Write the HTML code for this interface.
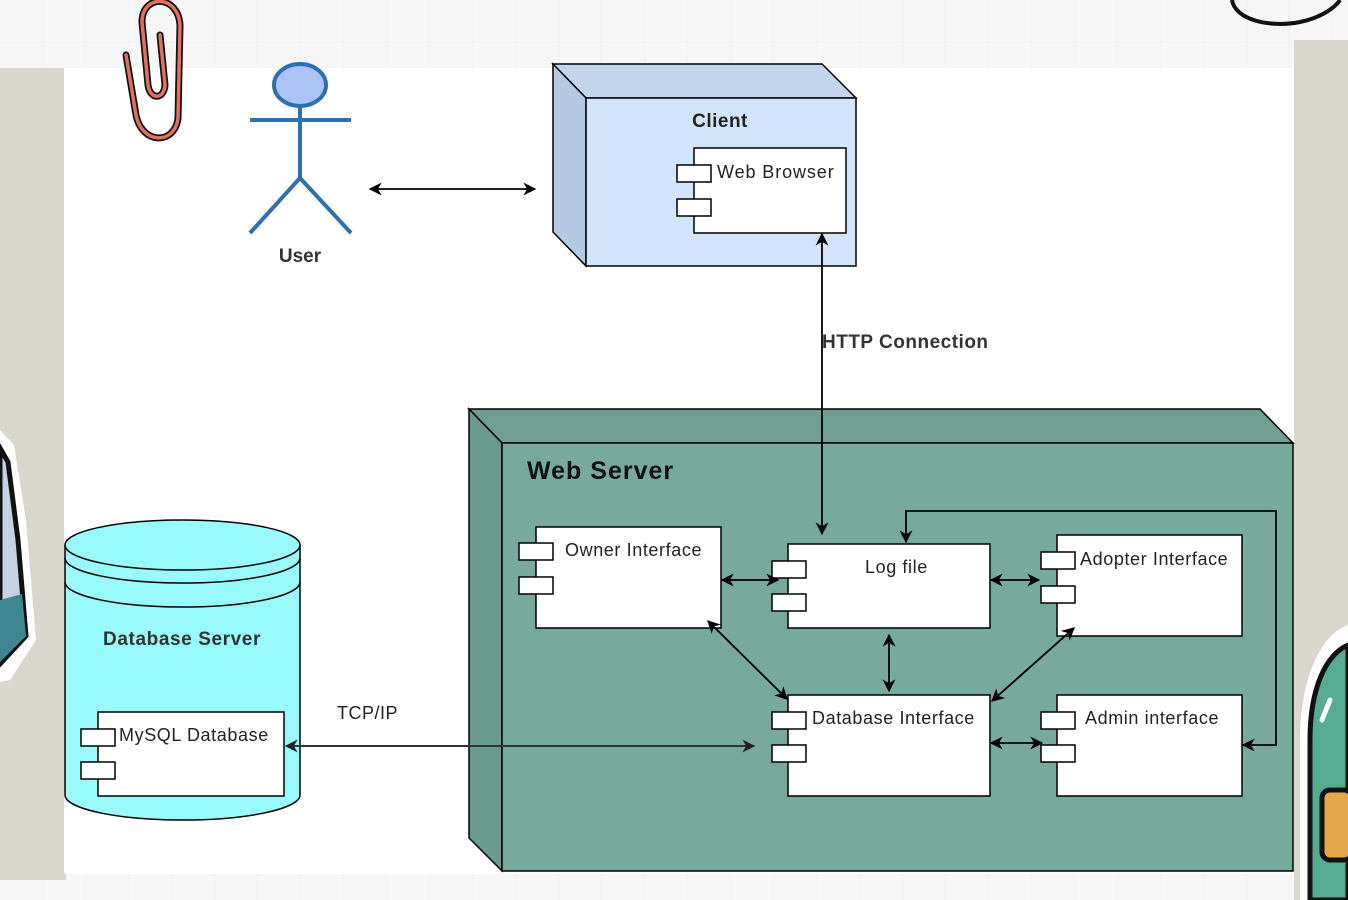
<!DOCTYPE html>
<html><head><meta charset="utf-8"><style>
html,body{margin:0;padding:0;width:1348px;height:900px;overflow:hidden;background:#f6f6f6}
svg{display:block}
text{font-family:"Liberation Sans",Arial,sans-serif}
</style></head><body>
<svg width="1348" height="900" viewBox="0 0 1348 900" xmlns="http://www.w3.org/2000/svg">
<defs>
<marker id="a" viewBox="0 0 10 10" refX="9" refY="5" markerWidth="13" markerHeight="13" orient="auto-start-reverse" markerUnits="userSpaceOnUse"><path d="M0,0 L10,5 L0,10 L3,5 z" fill="#000"/></marker>
<marker id="g" viewBox="0 0 10 10" refX="9" refY="5" markerWidth="13" markerHeight="13" orient="auto-start-reverse" markerUnits="userSpaceOnUse"><path d="M0,0 L10,5 L0,10 L3,5 z" fill="#222"/></marker>
<pattern id="grid" width="43" height="43" patternUnits="userSpaceOnUse"><path d="M43 0V43H0" fill="none" stroke="#ececec" stroke-width="1"/></pattern>
</defs>
<rect width="1348" height="900" fill="url(#grid)"/>
<rect x="0" y="68" width="66" height="812" fill="#d8d6cd"/>
<rect x="1294" y="40" width="54" height="860" fill="#d8d6cd"/>
<rect x="64" y="68" width="1230" height="806" fill="#fff"/>
<path d="M0,430 L14,445 L26,520 L36,640 L10,680 L0,682 Z" fill="#fff"/>
<path d="M0,448 L8,462 L18,540 L26,636 L0,664 Z" fill="#c3d3e3" stroke="#111" stroke-width="5"/>
<path d="M0,600 L22,594 L26,636 L0,662 Z" fill="#3f8790"/>
<path d="M1348,625 C1320,635 1300,680 1300,740 L1300,900 L1348,900 Z" fill="#fff"/>
<path d="M1348,645 C1325,655 1310,690 1310,740 L1310,900 L1348,900 Z" fill="#56ab93" stroke="#111" stroke-width="5"/>
<rect x="1322" y="790" width="30" height="70" rx="8" fill="#e3a84c" stroke="#111" stroke-width="5"/>
<path d="M1330,700 L1322,720" stroke="#fff" stroke-width="5" stroke-linecap="round"/>
<path d="M1232,0 C1235,20 1270,28 1300,22 C1320,18 1335,8 1340,0" fill="none" stroke="#111" stroke-width="4"/>
<path d="M126,55 L136,115 C142,145 175,145 178,118 L180,25 C178,-6 142,-6 142,22 L148,85 C150,100 164,100 165,85 L160,35" fill="none" stroke="#111" stroke-width="7" stroke-linecap="round"/>
<path d="M126,55 L136,115 C142,145 175,145 178,118 L180,25 C178,-6 142,-6 142,22 L148,85 C150,100 164,100 165,85 L160,35" fill="none" stroke="#e07060" stroke-width="3.5" stroke-linecap="round"/>
<ellipse cx="300" cy="85" rx="26" ry="21" fill="#a9c4f5" stroke="#2e6fb0" stroke-width="4"/>
<g stroke="#2e6fb0" stroke-width="4" fill="none">
<line x1="300" y1="106" x2="300" y2="178"/><line x1="250" y1="120" x2="351" y2="120"/>
<line x1="300" y1="178" x2="250" y2="233"/><line x1="300" y1="178" x2="351" y2="233"/></g>
<text x="300" y="262" text-anchor="middle" font-size="19" font-weight="bold" fill="#333">User</text>
<polygon points="553,64 822,64 856,98 586,98" fill="#c3d6ee" stroke="#000" stroke-width="1.5"/>
<polygon points="553,64 586,98 586,266 553,232" fill="#b6c9e2" stroke="#000" stroke-width="1.5"/>
<rect x="586" y="98" width="270" height="168" fill="#d3e5fc" stroke="#000" stroke-width="1.5"/>
<text x="720" y="127" text-anchor="middle" font-size="19" font-weight="bold" fill="#222" letter-spacing="0.5">Client</text>
<rect x="694" y="148" width="152" height="85" fill="#fff" stroke="#000" stroke-width="1.5"/>
<rect x="677" y="165" width="34" height="17" fill="#fff" stroke="#000" stroke-width="1.5"/>
<rect x="677" y="199" width="34" height="17" fill="#fff" stroke="#000" stroke-width="1.5"/>
<text x="717" y="178" font-size="18" fill="#222" letter-spacing="0.9">Web Browser</text>
<line x1="370" y1="189" x2="535" y2="189" stroke="#000" stroke-width="1.8" marker-start="url(#a)" marker-end="url(#a)"/>
<path d="M65,545 L65,795 A117.5,25 0 0 0 300,795 L300,545" fill="#98fafa" stroke="#000" stroke-width="1.5"/>
<ellipse cx="182.5" cy="545" rx="117.5" ry="25" fill="#98fafa" stroke="#000" stroke-width="1.5"/>
<path d="M65,558 A117.5,25 0 0 0 300,558 M65,582 A117.5,25 0 0 0 300,582" fill="none" stroke="#000" stroke-width="1.5"/>
<text x="182" y="645" text-anchor="middle" font-size="19" font-weight="bold" fill="#333" letter-spacing="0.6">Database Server</text>
<rect x="98" y="712" width="186" height="84" fill="#fff" stroke="#000" stroke-width="1.5"/>
<rect x="81" y="729" width="34" height="17" fill="#fff" stroke="#000" stroke-width="1.5"/>
<rect x="81" y="762" width="34" height="17" fill="#fff" stroke="#000" stroke-width="1.5"/>
<text x="119" y="741" font-size="18" fill="#222" letter-spacing="0.6">MySQL Database</text>
<polygon points="469,409 1260,409 1293,443 502,443" fill="#6f9f93" stroke="#000" stroke-width="1.5"/>
<polygon points="469,409 502,443 502,871 469,838" fill="#699a8e" stroke="#000" stroke-width="1.5"/>
<rect x="502" y="443" width="791" height="428" fill="#78a99d" stroke="#000" stroke-width="1.5"/>
<text x="527" y="479" font-size="25" font-weight="bold" fill="#111" letter-spacing="1">Web Server</text>
<g stroke="#000" stroke-width="1.5" fill="#fff">
<rect x="536" y="527" width="185" height="101"/><rect x="519" y="543" width="34" height="17"/><rect x="519" y="577" width="34" height="17"/>
<rect x="788" y="544" width="202" height="84"/><rect x="772" y="561" width="34" height="17"/><rect x="772" y="594" width="34" height="17"/>
<rect x="1057" y="535" width="185" height="101"/><rect x="1041" y="552" width="34" height="17"/><rect x="1041" y="586" width="34" height="17"/>
<rect x="788" y="695" width="202" height="101"/><rect x="772" y="712" width="34" height="17"/><rect x="772" y="745" width="34" height="17"/>
<rect x="1057" y="695" width="185" height="101"/><rect x="1041" y="712" width="34" height="17"/><rect x="1041" y="745" width="34" height="17"/>
</g>
<g font-size="18" fill="#222" letter-spacing="0.6">
<text x="565" y="556">Owner Interface</text>
<text x="865" y="573">Log file</text>
<text x="1080" y="565">Adopter Interface</text>
<text x="812" y="724">Database Interface</text>
<text x="1085" y="724">Admin interface</text>
</g>
<g stroke="#000" stroke-width="1.8" fill="none">
<line x1="822" y1="234" x2="822" y2="534" marker-start="url(#a)" marker-end="url(#a)"/>
<line x1="722" y1="580" x2="778" y2="580" marker-start="url(#a)" marker-end="url(#a)"/>
<line x1="708" y1="621" x2="787" y2="699" marker-start="url(#a)" marker-end="url(#a)"/>
<line x1="889" y1="635" x2="889" y2="691" marker-start="url(#a)" marker-end="url(#a)"/>
<line x1="991" y1="580" x2="1039" y2="580" marker-start="url(#a)" marker-end="url(#a)"/>
<line x1="1074" y1="628" x2="992" y2="701" marker-start="url(#a)" marker-end="url(#a)"/>
<line x1="991" y1="743" x2="1042" y2="743" marker-start="url(#a)" marker-end="url(#a)"/>
<polyline points="1243,745 1276,745 1276,511 906,511 906,542" marker-start="url(#a)" marker-end="url(#a)"/>
</g>
<line x1="286" y1="746" x2="754" y2="746" stroke="#333" stroke-width="2" marker-start="url(#g)" marker-end="url(#g)"/>
<text x="337" y="719" font-size="18" fill="#222" letter-spacing="0.5">TCP/IP</text>
<text x="822" y="348" font-size="19" font-weight="bold" fill="#333" letter-spacing="0.5">HTTP Connection</text>
</svg>
</body></html>
